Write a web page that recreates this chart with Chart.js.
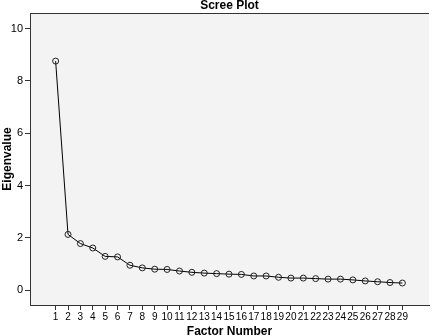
<!DOCTYPE html>
<html>
<head>
<meta charset="utf-8">
<script src="https://cdn.jsdelivr.net/npm/chart.js@4/dist/chart.umd.min.js"></script>
<style>
  html, body { margin: 0; padding: 0; background: #fff; }
  #wrap { width: 434px; height: 336px; }
</style>
</head>
<body>
<div id="wrap"><canvas id="scree"></canvas></div>
<script>
const factors = [1,2,3,4,5,6,7,8,9,10,11,12,13,14,15,16,17,18,19,20,21,22,23,24,25,26,27,28,29];
const eigenvalues = [8.76,2.13,1.78,1.61,1.29,1.27,0.95,0.85,0.80,0.79,0.73,0.68,0.65,0.63,0.61,
                     0.60,0.54,0.54,0.49,0.46,0.46,0.44,0.42,0.42,0.39,0.35,0.32,0.29,0.27];
const yTicks = [0, 2, 4, 6, 8, 10];

const FONT = '"Liberation Sans", Arial, sans-serif';

// plot background, top border and title drawn around the chart area
const frame = {
    id: 'frame',
    beforeDraw(chart) {
        const { ctx, chartArea: a } = chart;
        ctx.save();
        ctx.fillStyle = '#f3f3f3';
        ctx.fillRect(a.left, a.top, a.right - a.left, a.bottom - a.top);
        ctx.restore();
    },
    afterDraw(chart) {
        const { ctx, chartArea: a } = chart;
        ctx.save();
        ctx.strokeStyle = '#333';
        ctx.lineWidth = 1;
        ctx.beginPath();
        ctx.moveTo(a.left, a.top + 0.5);
        ctx.lineTo(a.right, a.top + 0.5);
        ctx.stroke();
        ctx.fillStyle = '#000';
        ctx.font = 'bold 12px ' + FONT;
        ctx.textAlign = 'center';
        ctx.textBaseline = 'middle';
        ctx.fillText('Scree Plot', (a.left + a.right) / 2, 6);
        ctx.restore();
    }
};

new Chart(document.getElementById('scree'), {
    type: 'line',
    data: {
        datasets: [{
            label: 'Eigenvalue',
            data: factors.map((f, i) => ({ x: f, y: eigenvalues[i] })),
            borderColor: '#000',
            borderWidth: 1,
            pointRadius: 3,
            pointBorderWidth: 1,
            pointBorderColor: '#222',
            pointBackgroundColor: 'rgba(0,0,0,0)',
            tension: 0
        }]
    },
    plugins: [frame],
    options: {
        responsive: true,
        maintainAspectRatio: false,
        animation: false,
        layout: { padding: { top: 13, right: 0, left: 0, bottom: 0 } },
        plugins: {
            legend: { display: false },
            tooltip: { enabled: false },
            title: { display: false }
        },
        scales: {
            x: {
                type: 'linear',
                min: -1.07,
                max: 31.15,
                afterBuildTicks: axis => { axis.ticks = factors.map(v => ({ value: v })); },
                afterFit: axis => { axis.height = 31; },
                grid: { drawOnChartArea: false, tickLength: 5, color: '#333' },
                border: { color: '#333', width: 1 },
                ticks: {
                    autoSkip: false,
                    maxRotation: 0,
                    padding: 1,
                    color: '#000',
                    font: { family: FONT, size: 10 }
                },
                title: {
                    display: true,
                    text: 'Factor Number',
                    color: '#000',
                    padding: { top: 0, bottom: -3 },
                    font: { family: FONT, size: 12, weight: 'bold' }
                }
            },
            y: {
                min: -0.57,
                max: 10.6,
                afterBuildTicks: axis => { axis.ticks = yTicks.map(v => ({ value: v })); },
                afterFit: axis => { axis.width = 30; },
                grid: { drawOnChartArea: false, tickLength: 5, color: '#333' },
                border: { color: '#333', width: 1 },
                ticks: {
                    padding: 2,
                    color: '#000',
                    font: { family: FONT, size: 11 }
                },
                title: {
                    display: true,
                    text: 'Eigenvalue',
                    color: '#000',
                    padding: { top: 0, bottom: 0 },
                    font: { family: FONT, size: 12, weight: 'bold' }
                }
            }
        }
    }
});
</script>
</body>
</html>
